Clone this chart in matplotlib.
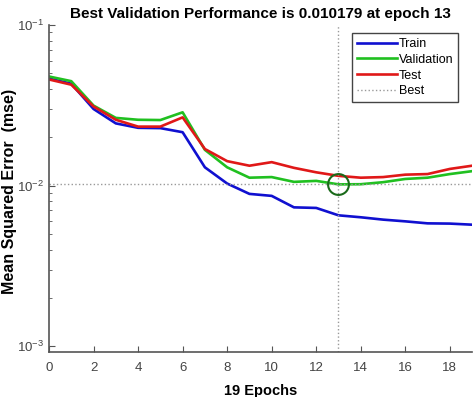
import matplotlib.pyplot as plt
import numpy as np

plt.rcParams['font.family'] = ['Liberation Sans', 'DejaVu Sans']

epochs = list(range(20))
train = [0.0464, 0.0431, 0.0300, 0.0244, 0.0229, 0.0228, 0.0215, 0.0130, 0.0103, 0.00888,
         0.00863, 0.00732, 0.00726, 0.00653, 0.00635, 0.00614, 0.00599, 0.00582, 0.00580, 0.00571]
validation = [0.0478, 0.0447, 0.0315, 0.0264, 0.0257, 0.0256, 0.0286, 0.0167, 0.0130, 0.0112,
              0.0113, 0.01055, 0.0107, 0.010179, 0.0102, 0.0105, 0.0110, 0.0112, 0.0118, 0.0123]
test = [0.0458, 0.0425, 0.0311, 0.0257, 0.0233, 0.0233, 0.0266, 0.0169, 0.0142, 0.0133,
        0.0140, 0.0129, 0.0121, 0.0115, 0.0112, 0.0113, 0.0117, 0.0118, 0.0127, 0.0133]
best_epoch = 13
best_perf = 0.010179

fig = plt.figure(figsize=(4.74, 3.97), dpi=100)
ax = fig.add_axes([0.1034, 0.113, 0.8926, 0.824])

grey = '#555555'
ax.plot(epochs, train, color='#1010d0', lw=1.9, label='Train')
ax.plot(epochs, validation, color='#20c020', lw=1.9, label='Validation')
ax.plot(epochs, test, color='#e01818', lw=1.9, label='Test')
ax.axvline(best_epoch, color='#999999', ls=':', lw=1.0, label='Best')
ax.axhline(best_perf, color='#999999', ls=':', lw=1.0)
ax.plot([best_epoch], [best_perf], 'o', mfc='none', mec='#1a6a1a', ms=15, mew=1.5)

ax.set_yscale('log')
ax.set_xlim(0, 19)
ax.set_ylim(10 ** -3.037, 0.1)
ax.set_xticks(range(0, 19, 2))
ax.set_yticks([1e-3, 1e-2, 1e-1])

for s in ['top', 'right']:
    ax.spines[s].set_visible(False)
for s in ['left', 'bottom']:
    ax.spines[s].set_color(grey)
    ax.spines[s].set_linewidth(1.2)
ax.tick_params(direction='in', colors=grey, labelcolor='#444444', labelsize=9.5, length=4)
ax.tick_params(axis='x', pad=7)
ax.tick_params(which='minor', direction='in', colors=grey, length=2.5)

ax.set_title('Best Validation Performance is 0.010179 at epoch 13',
             fontsize=11, fontweight='bold', pad=5)
ax.set_xlabel('19 Epochs', fontsize=10.5, fontweight='bold', labelpad=7)
ax.set_ylabel('Mean Squared Error  (mse)', fontsize=11.5, fontweight='bold')
ax.yaxis.set_label_coords(-0.076, 0.49)

leg = ax.legend(loc='upper right', bbox_to_anchor=(0.967, 0.9755), fontsize=9,
                handlelength=3.2, handletextpad=0.15, borderpad=0.4,
                labelspacing=0.3, fancybox=False, framealpha=1, borderaxespad=0)
leg.get_frame().set_edgecolor('#444444')
leg.get_frame().set_linewidth(1.0)

plt.savefig('out.png', dpi=100)
